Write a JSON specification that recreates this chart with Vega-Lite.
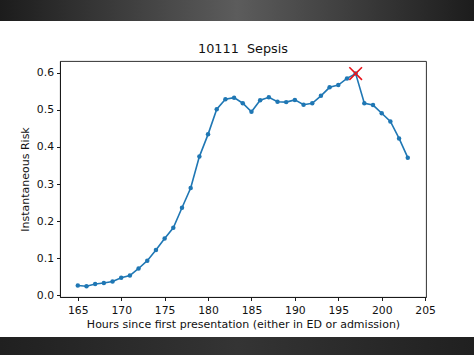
{
  "$schema": "https://vega.github.io/schema/vega-lite/v6.json",
  "padding": 0,
  "background": "white",
  "spacing": 0,
  "config": {
    "view": {"stroke": null},
    "font": "DejaVu Sans",
    "concat": {"spacing": 0}
  },
  "vconcat": [
    {
      "width": 474,
      "height": 21,
      "data": {"values": [{}]},
      "mark": {
        "type": "rect",
        "color": {
          "gradient": "linear",
          "x1": 0, "x2": 1, "y1": 0, "y2": 0,
          "stops": [
            {"offset": 0, "color": "#1c1c1c"},
            {"offset": 0.5, "color": "#5c5c5c"},
            {"offset": 1, "color": "#1c1c1c"}
          ]
        }
      },
      "encoding": {}
    },
    {
      "width": 474,
      "height": 21,
      "data": {"values": [{}]},
      "mark": {"type": "rect", "color": "white"},
      "encoding": {}
    },
    {
      "spacing": 0,
      "hconcat": [
        {
          "width": 18,
          "height": 10,
          "data": {"values": [{}]},
          "mark": {"type": "rect", "color": "white"},
          "encoding": {}
        },
        {
          "width": 366,
          "height": 236,
          "view": {"stroke": "#1a1a1a", "strokeWidth": 0.9},
          "title": {
            "text": "10111 \u00a0Sepsis",
            "fontSize": 12.8,
            "fontWeight": "normal",
            "font": "DejaVu Sans",
            "color": "#111111",
            "offset": 5
          },
          "data": {
            "values": [
              {"hour": 165, "risk": 0.026},
              {"hour": 166, "risk": 0.024},
              {"hour": 167, "risk": 0.030},
              {"hour": 168, "risk": 0.033},
              {"hour": 169, "risk": 0.037},
              {"hour": 170, "risk": 0.047},
              {"hour": 171, "risk": 0.053},
              {"hour": 172, "risk": 0.072},
              {"hour": 173, "risk": 0.093},
              {"hour": 174, "risk": 0.122},
              {"hour": 175, "risk": 0.153},
              {"hour": 176, "risk": 0.182},
              {"hour": 177, "risk": 0.236},
              {"hour": 178, "risk": 0.289},
              {"hour": 179, "risk": 0.374},
              {"hour": 180, "risk": 0.434},
              {"hour": 181, "risk": 0.502},
              {"hour": 182, "risk": 0.529},
              {"hour": 183, "risk": 0.533},
              {"hour": 184, "risk": 0.518},
              {"hour": 185, "risk": 0.495},
              {"hour": 186, "risk": 0.526},
              {"hour": 187, "risk": 0.534},
              {"hour": 188, "risk": 0.522},
              {"hour": 189, "risk": 0.521},
              {"hour": 190, "risk": 0.527},
              {"hour": 191, "risk": 0.514},
              {"hour": 192, "risk": 0.518},
              {"hour": 193, "risk": 0.538},
              {"hour": 194, "risk": 0.561},
              {"hour": 195, "risk": 0.567},
              {"hour": 196, "risk": 0.585},
              {"hour": 197, "risk": 0.598},
              {"hour": 198, "risk": 0.518},
              {"hour": 199, "risk": 0.513},
              {"hour": 200, "risk": 0.491},
              {"hour": 201, "risk": 0.469},
              {"hour": 202, "risk": 0.423},
              {"hour": 203, "risk": 0.371}
            ]
          },
          "encoding": {
            "x": {
              "field": "hour",
              "type": "quantitative",
              "scale": {"domain": [162.95, 205.1], "nice": false, "zero": false},
              "axis": {
                "values": [165, 170, 175, 180, 185, 190, 195, 200, 205],
                "title": "Hours since first presentation (either in ED or admission)",
                "grid": false,
                "tickSize": 3.5,
                "labelPadding": 3.5,
                "labelFontSize": 10.8,
                "titleFontSize": 11,
                "titleFontWeight": "normal",
                "titlePadding": 4,
                "domainColor": "#1a1a1a",
                "tickColor": "#1a1a1a",
                "labelColor": "#111111",
                "titleColor": "#111111",
                "labelFlush": false
              }
            },
            "y": {
              "field": "risk",
              "type": "quantitative",
              "scale": {"domain": [-0.005, 0.632], "nice": false, "zero": false},
              "axis": {
                "values": [0, 0.1, 0.2, 0.3, 0.4, 0.5, 0.6],
                "format": ".1f",
                "title": "Instantaneous Risk",
                "grid": false,
                "tickSize": 3.5,
                "labelPadding": 3,
                "labelFontSize": 10.8,
                "titleFontSize": 11,
                "titleFontWeight": "normal",
                "titlePadding": 6,
                "domainColor": "#1a1a1a",
                "tickColor": "#1a1a1a",
                "labelColor": "#111111",
                "titleColor": "#111111",
                "labelFlush": false
              }
            }
          },
          "layer": [
            {
              "mark": {
                "type": "line",
                "color": "#1f77b4",
                "strokeWidth": 1.6,
                "point": {"filled": true, "size": 20, "color": "#1f77b4", "opacity": 1}
              }
            },
            {
              "transform": [{"filter": "datum.hour === 197"}],
              "mark": {
                "type": "point",
                "shape": "M-1,-1L1,1M-1,1L1,-1",
                "filled": false,
                "color": "#e8141c",
                "strokeWidth": 1.6,
                "size": 160,
                "opacity": 1
              }
            }
          ]
        }
      ]
    },
    {
      "width": 474,
      "height": 6,
      "data": {"values": [{}]},
      "mark": {"type": "rect", "color": "white"},
      "encoding": {}
    },
    {
      "width": 474,
      "height": 20,
      "data": {"values": [{}]},
      "mark": {
        "type": "rect",
        "color": {
          "gradient": "linear",
          "x1": 0, "x2": 1, "y1": 0, "y2": 0,
          "stops": [
            {"offset": 0, "color": "#202020"},
            {"offset": 0.5, "color": "#343434"},
            {"offset": 1, "color": "#202020"}
          ]
        }
      },
      "encoding": {}
    }
  ]
}
